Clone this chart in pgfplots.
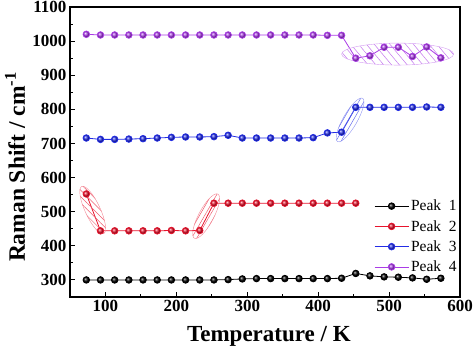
\documentclass[border=0pt]{standalone}
\usepackage{pgfplots}
\pgfplotsset{compat=1.18}
\usepackage{fontspec}
\setmainfont{Liberation Serif}
\usetikzlibrary{patterns.meta,shapes.geometric,calc}
\definecolor{pk2}{RGB}{232,20,45}
\definecolor{pk3}{RGB}{35,45,230}
\definecolor{pk4}{RGB}{170,60,230}
\newcommand{\tl}[1]{{\fontsize{17}{19}\selectfont\bfseries #1}}
\begin{document}
\begin{tikzpicture}
\begin{axis}[name=ax,
  scale only axis, width=390pt, height=290pt,
  xmin=50, xmax=600, ymin=250, ymax=1100,
  xtick={100,200,...,600}, ytick={300,400,...,1100},
  xticklabels={\tl{100},\tl{200},\tl{300},\tl{400},\tl{500},\tl{600}},
  yticklabels={\tl{300},\tl{400},\tl{500},\tl{600},\tl{700},\tl{800},\tl{900},\tl{1000},\tl{1100}},
  minor x tick num=1, minor y tick num=1,
  tick pos=left, tick align=inside,
  major tick length=5pt, minor tick length=3pt,
  axis line style={line width=1.5pt},
  every tick/.style={black, line width=1pt},
  xlabel={\fontsize{23}{26}\selectfont\bfseries Temperature / K},
  ylabel={\fontsize{23.5}{26}\selectfont\bfseries Raman Shift / cm\textsuperscript{-1}},
  xlabel style={at={(axis description cs:0.51,-0.152)}, anchor=base},
  ylabel style={at={(axis description cs:-0.141,0.448)}, anchor=center},
  legend style={at={(0.997,0.342)}, anchor=north east, draw=none, fill=none, inner sep=0pt,
    font=\fontsize{15.5}{17}\selectfont, row sep=4pt, nodes={inner sep=2pt}},
  legend cell align=left,
  legend image code/.code={\draw[mark repeat=2,mark phase=2] plot coordinates {(0pt,0pt)(17pt,0pt)(34pt,0pt)};},
  every axis plot/.append style={line width=0.8pt, mark=ball, mark size=3.3pt},
]
\addplot[black, mark options={ball color=black}] coordinates {
(73,300)(93,300)(113,300)(133,300)(153,300)(173,300)(193,300)(213,300)(233,300)(253,300)
(273,301)(293,303)(313,304)(333,304)(353,304)(373,304)(393,304)(413,304)(433,305)
(453,319)(473,312)(493,309)(513,308)(533,306)(553,302)(573,305)};
\addlegendentry{Peak\ \ 1}
\addplot[pk2, mark options={ball color=pk2}] coordinates {
(73,552)(93,444)(113,444)(133,444)(153,444)(173,444)(193,445)(213,444)(233,445)
(253,525)(273,525)(293,525)(313,525)(333,525)(353,525)(373,525)(393,525)(413,525)(433,525)(453,525)};
\addlegendentry{Peak\ \ 2}
\addplot[pk3, mark options={ball color=pk3}] coordinates {
(73,716)(93,712)(113,712)(133,713)(153,714)(173,716)(193,718)(213,719)(233,719)(253,720)
(273,724)(293,716)(313,716)(333,716)(353,716)(373,716)(393,717)(413,731)(433,733)
(453,806)(473,806)(493,806)(513,806)(533,806)(553,807)(573,806)};
\addlegendentry{Peak\ \ 3}
\addplot[pk4, mark options={ball color=pk4}] coordinates {
(73,1020)(93,1018)(113,1018)(133,1018)(153,1018)(173,1018)(193,1018)(213,1018)(233,1018)(253,1018)
(273,1018)(293,1018)(313,1018)(333,1018)(353,1018)(373,1018)(393,1018)(413,1017)(433,1017)
(453,950)(473,957)(493,982)(513,982)(533,955)(553,983)(573,951)};
\addlegendentry{Peak\ \ 4}
\node[ellipse, draw=pk2!50, line width=0.4pt, minimum width=52pt, minimum height=15pt, rotate=-65,
  pattern={Lines[angle=-45,distance=4.5pt,line width=0.5pt]}, pattern color=pk2!70] at (axis cs:82,505) {};
\node[ellipse, draw=pk2!50, line width=0.4pt, minimum width=50pt, minimum height=15pt, rotate=62,
  pattern={Lines[angle=60,distance=4.5pt,line width=0.5pt]}, pattern color=pk2!70] at (axis cs:242,487) {};
\node[ellipse, draw=pk3!50, line width=0.4pt, minimum width=50pt, minimum height=14pt, rotate=60,
  pattern={Lines[angle=60,distance=4.5pt,line width=0.5pt]}, pattern color=pk3!70] at (axis cs:445,769) {};
\node[ellipse, draw=pk4!50, line width=0.4pt, minimum width=112pt, minimum height=22pt,
  pattern={Lines[angle=-50,distance=6pt,line width=0.5pt]}, pattern color=pk4!70] at (axis cs:512,962) {};
\end{axis}
\pgfresetboundingbox
\path ($(ax.south west)+(-70pt,-48pt)$) rectangle ($(ax.north east)+(14pt,7pt)$);
\end{tikzpicture}
\end{document}
